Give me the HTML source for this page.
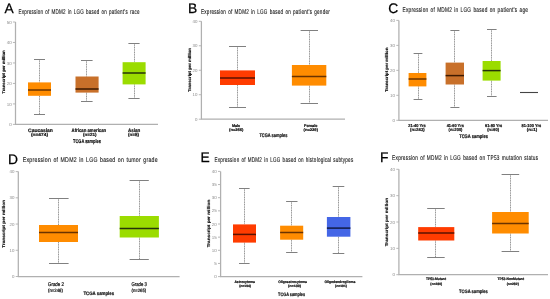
<!DOCTYPE html>
<html><head><meta charset="utf-8"><style>
html,body{margin:0;padding:0;background:#fff;}
svg{display:block;font-family:"Liberation Sans", sans-serif;will-change:transform;text-rendering:geometricPrecision;}
</style></head><body>
<svg width="550" height="299" viewBox="0 0 550 299">
<rect width="550" height="299" fill="#fff"/>
<text x="4.60" y="12.80" font-size="13.8" font-weight="normal" fill="#000" text-anchor="start" stroke="#000" stroke-width="0.25">A</text>
<text x="18.60" y="13.60" font-size="6.8" fill="#1a1a1a" stroke="#1a1a1a" stroke-width="0.12" letter-spacing="0.35" word-spacing="0.8" textLength="121.10" lengthAdjust="spacingAndGlyphs">Expression of MDM2 in LGG based on patient&#8217;s race</text>
<path d="M15.50 22.00V124.40H158.00" fill="none" stroke="#b0b0b0" stroke-width="1.25"/>
<path d="M12.90 124.40H15.50" stroke="#b0b0b0" stroke-width="0.9"/>
<text x="11.60" y="126.00" font-size="4.4" font-weight="normal" fill="#8a8a8a" text-anchor="end">0</text>
<path d="M12.90 103.92H15.50" stroke="#b0b0b0" stroke-width="0.9"/>
<text x="11.60" y="105.52" font-size="4.4" font-weight="normal" fill="#8a8a8a" text-anchor="end">10</text>
<path d="M12.90 83.44H15.50" stroke="#b0b0b0" stroke-width="0.9"/>
<text x="11.60" y="85.04" font-size="4.4" font-weight="normal" fill="#8a8a8a" text-anchor="end">20</text>
<path d="M12.90 62.96H15.50" stroke="#b0b0b0" stroke-width="0.9"/>
<text x="11.60" y="64.56" font-size="4.4" font-weight="normal" fill="#8a8a8a" text-anchor="end">30</text>
<path d="M12.90 42.48H15.50" stroke="#b0b0b0" stroke-width="0.9"/>
<text x="11.60" y="44.08" font-size="4.4" font-weight="normal" fill="#8a8a8a" text-anchor="end">40</text>
<path d="M12.90 22.00H15.50" stroke="#b0b0b0" stroke-width="0.9"/>
<text x="11.60" y="23.60" font-size="4.4" font-weight="normal" fill="#8a8a8a" text-anchor="end">50</text>
<text transform="translate(4.70,72.00) rotate(-90)" x="0" y="0" font-size="4.2" font-weight="bold" fill="#111" stroke="#111" stroke-width="0.15" text-anchor="middle" textLength="43.4" lengthAdjust="spacingAndGlyphs">Transcript per million</text>
<path d="M39.50 59.50V82.40M39.50 95.80V114.50" stroke="#999999" stroke-width="1" stroke-dasharray="1.2 0.5"/>
<path d="M34.00 59.50H45.00M34.00 114.50H45.00" stroke="#808080" stroke-width="1"/>
<rect x="28.00" y="82.40" width="23.00" height="13.40" fill="#ff8c00"/>
<path d="M28.00 90.00H51.00" stroke="#6a3300" stroke-width="1.5"/>
<path d="M86.50 60.50V76.50M86.50 92.60V101.50" stroke="#999999" stroke-width="1" stroke-dasharray="1.2 0.5"/>
<path d="M81.00 60.50H92.60M81.00 101.50H92.60" stroke="#808080" stroke-width="1"/>
<rect x="75.50" y="76.50" width="23.10" height="16.10" fill="#c8702a"/>
<path d="M75.50 89.00H98.60" stroke="#3e1a00" stroke-width="1.5"/>
<path d="M134.50 43.50V62.20M134.50 84.40V98.50" stroke="#999999" stroke-width="1" stroke-dasharray="1.2 0.5"/>
<path d="M128.40 43.50H139.60M128.40 98.50H139.60" stroke="#808080" stroke-width="1"/>
<rect x="122.60" y="62.20" width="23.00" height="22.20" fill="#9bdc00"/>
<path d="M122.60 73.00H145.60" stroke="#26330a" stroke-width="1.5"/>
<text x="28.10" y="131.80" font-size="5.0" font-weight="bold" fill="#111" text-anchor="start" textLength="24.80" lengthAdjust="spacingAndGlyphs" stroke="#111" stroke-width="0.2">Caucasian</text>
<text x="31.00" y="136.40" font-size="4.4" font-weight="bold" fill="#111" text-anchor="start" textLength="17.00" lengthAdjust="spacingAndGlyphs" stroke="#111" stroke-width="0.2">(n=474)</text>
<text x="71.60" y="131.80" font-size="5.0" font-weight="bold" fill="#111" text-anchor="start" textLength="34.60" lengthAdjust="spacingAndGlyphs" stroke="#111" stroke-width="0.2">African american</text>
<text x="83.00" y="136.40" font-size="4.4" font-weight="bold" fill="#111" text-anchor="start" textLength="13.40" lengthAdjust="spacingAndGlyphs" stroke="#111" stroke-width="0.2">(n=21)</text>
<text x="128.10" y="131.80" font-size="5.0" font-weight="bold" fill="#111" text-anchor="start" textLength="12.20" lengthAdjust="spacingAndGlyphs" stroke="#111" stroke-width="0.2">Asian</text>
<text x="128.10" y="136.40" font-size="4.4" font-weight="bold" fill="#111" text-anchor="start" textLength="10.90" lengthAdjust="spacingAndGlyphs" stroke="#111" stroke-width="0.2">(n=8)</text>
<text x="73.10" y="142.80" font-size="5.4" font-weight="bold" fill="#111" text-anchor="start" textLength="27.80" lengthAdjust="spacingAndGlyphs" stroke="#111" stroke-width="0.2">TCGA samples</text>
<text x="188.10" y="12.80" font-size="13.8" font-weight="normal" fill="#000" text-anchor="start" stroke="#000" stroke-width="0.25">B</text>
<text x="201.00" y="13.50" font-size="6.8" fill="#1a1a1a" stroke="#1a1a1a" stroke-width="0.12" letter-spacing="0.35" word-spacing="0.8" textLength="129.00" lengthAdjust="spacingAndGlyphs">Expression of MDM2 in LGG based on patient&#8217;s gender</text>
<path d="M201.40 21.30V119.20H345.00" fill="none" stroke="#b0b0b0" stroke-width="1.25"/>
<path d="M198.80 119.20H201.40" stroke="#b0b0b0" stroke-width="0.9"/>
<text x="197.50" y="120.80" font-size="4.4" font-weight="normal" fill="#8a8a8a" text-anchor="end">0</text>
<path d="M198.80 94.72H201.40" stroke="#b0b0b0" stroke-width="0.9"/>
<text x="197.50" y="96.32" font-size="4.4" font-weight="normal" fill="#8a8a8a" text-anchor="end">10</text>
<path d="M198.80 70.25H201.40" stroke="#b0b0b0" stroke-width="0.9"/>
<text x="197.50" y="71.85" font-size="4.4" font-weight="normal" fill="#8a8a8a" text-anchor="end">20</text>
<path d="M198.80 45.78H201.40" stroke="#b0b0b0" stroke-width="0.9"/>
<text x="197.50" y="47.38" font-size="4.4" font-weight="normal" fill="#8a8a8a" text-anchor="end">30</text>
<path d="M198.80 21.30H201.40" stroke="#b0b0b0" stroke-width="0.9"/>
<text x="197.50" y="22.90" font-size="4.4" font-weight="normal" fill="#8a8a8a" text-anchor="end">40</text>
<text transform="translate(190.80,70.00) rotate(-90)" x="0" y="0" font-size="4.2" font-weight="bold" fill="#111" stroke="#111" stroke-width="0.15" text-anchor="middle" textLength="43.8" lengthAdjust="spacingAndGlyphs">Transcript per million</text>
<path d="M237.50 46.50V70.40M237.50 85.00V107.50" stroke="#999999" stroke-width="1" stroke-dasharray="1.2 0.5"/>
<path d="M229.00 46.50H246.00M229.00 107.50H246.00" stroke="#808080" stroke-width="1"/>
<rect x="220.00" y="70.40" width="35.00" height="14.60" fill="#ff3c00"/>
<path d="M220.00 78.00H255.00" stroke="#5a1200" stroke-width="1.5"/>
<path d="M309.50 30.50V65.00M309.50 85.60V103.50" stroke="#999999" stroke-width="1" stroke-dasharray="1.2 0.5"/>
<path d="M300.60 30.50H318.00M300.60 103.50H318.00" stroke="#808080" stroke-width="1"/>
<rect x="291.90" y="65.00" width="34.40" height="20.60" fill="#ff8c00"/>
<path d="M291.90 76.40H326.30" stroke="#6a3300" stroke-width="1.5"/>
<text x="231.90" y="126.80" font-size="3.9" font-weight="bold" fill="#111" text-anchor="start" textLength="8.20" lengthAdjust="spacingAndGlyphs" stroke="#111" stroke-width="0.2">Male</text>
<text x="229.10" y="131.20" font-size="3.9" font-weight="bold" fill="#111" text-anchor="start" textLength="14.30" lengthAdjust="spacingAndGlyphs" stroke="#111" stroke-width="0.2">(n=266)</text>
<text x="304.00" y="126.80" font-size="3.9" font-weight="bold" fill="#111" text-anchor="start" textLength="13.50" lengthAdjust="spacingAndGlyphs" stroke="#111" stroke-width="0.2">Female</text>
<text x="303.60" y="131.20" font-size="3.9" font-weight="bold" fill="#111" text-anchor="start" textLength="14.40" lengthAdjust="spacingAndGlyphs" stroke="#111" stroke-width="0.2">(n=229)</text>
<text x="259.40" y="136.80" font-size="5.2" font-weight="bold" fill="#111" text-anchor="start" textLength="28.00" lengthAdjust="spacingAndGlyphs" stroke="#111" stroke-width="0.2">TCGA samples</text>
<text x="388.30" y="12.50" font-size="13.8" font-weight="normal" fill="#000" text-anchor="start" stroke="#000" stroke-width="0.25">C</text>
<text x="402.50" y="11.60" font-size="6.8" fill="#1a1a1a" stroke="#1a1a1a" stroke-width="0.12" letter-spacing="0.35" word-spacing="0.8" textLength="125.70" lengthAdjust="spacingAndGlyphs">Expression of MDM2 in LGG based on patient&#8217;s age</text>
<path d="M398.90 20.40V120.30H548.00" fill="none" stroke="#b0b0b0" stroke-width="1.25"/>
<path d="M396.30 120.30H398.90" stroke="#b0b0b0" stroke-width="0.9"/>
<text x="395.00" y="121.90" font-size="4.4" font-weight="normal" fill="#8a8a8a" text-anchor="end">0</text>
<path d="M396.30 95.32H398.90" stroke="#b0b0b0" stroke-width="0.9"/>
<text x="395.00" y="96.92" font-size="4.4" font-weight="normal" fill="#8a8a8a" text-anchor="end">10</text>
<path d="M396.30 70.35H398.90" stroke="#b0b0b0" stroke-width="0.9"/>
<text x="395.00" y="71.95" font-size="4.4" font-weight="normal" fill="#8a8a8a" text-anchor="end">20</text>
<path d="M396.30 45.38H398.90" stroke="#b0b0b0" stroke-width="0.9"/>
<text x="395.00" y="46.98" font-size="4.4" font-weight="normal" fill="#8a8a8a" text-anchor="end">30</text>
<path d="M396.30 20.40H398.90" stroke="#b0b0b0" stroke-width="0.9"/>
<text x="395.00" y="22.00" font-size="4.4" font-weight="normal" fill="#8a8a8a" text-anchor="end">40</text>
<text transform="translate(387.50,69.80) rotate(-90)" x="0" y="0" font-size="4.2" font-weight="bold" fill="#111" stroke="#111" stroke-width="0.15" text-anchor="middle" textLength="44.2" lengthAdjust="spacingAndGlyphs">Transcript per million</text>
<path d="M418.50 53.50V73.00M418.50 86.40V99.50" stroke="#999999" stroke-width="1" stroke-dasharray="1.2 0.5"/>
<path d="M413.60 53.50H422.40M413.60 99.50H422.40" stroke="#808080" stroke-width="1"/>
<rect x="408.60" y="73.00" width="17.80" height="13.40" fill="#ff8c00"/>
<path d="M408.60 79.00H426.40" stroke="#6a3300" stroke-width="1.5"/>
<path d="M454.50 30.50V62.60M454.50 84.50V107.50" stroke="#999999" stroke-width="1" stroke-dasharray="1.2 0.5"/>
<path d="M450.40 30.50H459.40M450.40 107.50H459.40" stroke="#808080" stroke-width="1"/>
<rect x="445.60" y="62.60" width="18.40" height="21.90" fill="#c8702a"/>
<path d="M445.60 75.60H464.00" stroke="#3e1a00" stroke-width="1.5"/>
<path d="M491.50 29.50V61.00M491.50 80.60V96.50" stroke="#999999" stroke-width="1" stroke-dasharray="1.2 0.5"/>
<path d="M487.00 29.50H496.60M487.00 96.50H496.60" stroke="#808080" stroke-width="1"/>
<rect x="482.60" y="61.00" width="18.00" height="19.60" fill="#9bdc00"/>
<path d="M482.60 70.60H500.60" stroke="#26330a" stroke-width="1.5"/>
<path d="M520 92.5H538" stroke="#444" stroke-width="1.1"/>
<text x="408.30" y="127.00" font-size="4.3" font-weight="bold" fill="#111" text-anchor="start" textLength="17.50" lengthAdjust="spacingAndGlyphs" stroke="#111" stroke-width="0.2">21-40 Yrs</text>
<text x="410.00" y="131.40" font-size="4.3" font-weight="bold" fill="#111" text-anchor="start" textLength="14.60" lengthAdjust="spacingAndGlyphs" stroke="#111" stroke-width="0.2">(n=243)</text>
<text x="446.70" y="127.00" font-size="4.3" font-weight="bold" fill="#111" text-anchor="start" textLength="17.20" lengthAdjust="spacingAndGlyphs" stroke="#111" stroke-width="0.2">41-60 Yrs</text>
<text x="448.60" y="131.40" font-size="4.3" font-weight="bold" fill="#111" text-anchor="start" textLength="13.80" lengthAdjust="spacingAndGlyphs" stroke="#111" stroke-width="0.2">(n=200)</text>
<text x="485.00" y="127.00" font-size="4.3" font-weight="bold" fill="#111" text-anchor="start" textLength="17.30" lengthAdjust="spacingAndGlyphs" stroke="#111" stroke-width="0.2">61-80 Yrs</text>
<text x="487.20" y="131.40" font-size="4.3" font-weight="bold" fill="#111" text-anchor="start" textLength="11.80" lengthAdjust="spacingAndGlyphs" stroke="#111" stroke-width="0.2">(n=60)</text>
<text x="521.60" y="127.00" font-size="4.3" font-weight="bold" fill="#111" text-anchor="start" textLength="19.70" lengthAdjust="spacingAndGlyphs" stroke="#111" stroke-width="0.2">81-100 Yrs</text>
<text x="526.70" y="131.40" font-size="4.3" font-weight="bold" fill="#111" text-anchor="start" textLength="10.50" lengthAdjust="spacingAndGlyphs" stroke="#111" stroke-width="0.2">(n=1)</text>
<text x="459.20" y="138.10" font-size="5.2" font-weight="bold" fill="#111" text-anchor="start" textLength="28.80" lengthAdjust="spacingAndGlyphs" stroke="#111" stroke-width="0.2">TCGA samples</text>
<text x="8.10" y="163.70" font-size="13.8" font-weight="normal" fill="#000" text-anchor="start" stroke="#000" stroke-width="0.25">D</text>
<text x="22.80" y="162.40" font-size="6.8" fill="#1a1a1a" stroke="#1a1a1a" stroke-width="0.12" letter-spacing="0.35" word-spacing="0.8" textLength="135.10" lengthAdjust="spacingAndGlyphs">Expression of MDM2 in LGG based on tumor grade</text>
<path d="M18.30 171.60V276.50H179.60" fill="none" stroke="#b0b0b0" stroke-width="1.25"/>
<path d="M15.70 276.50H18.30" stroke="#b0b0b0" stroke-width="0.9"/>
<text x="14.40" y="278.10" font-size="4.4" font-weight="normal" fill="#8a8a8a" text-anchor="end">0</text>
<path d="M15.70 250.28H18.30" stroke="#b0b0b0" stroke-width="0.9"/>
<text x="14.40" y="251.88" font-size="4.4" font-weight="normal" fill="#8a8a8a" text-anchor="end">10</text>
<path d="M15.70 224.05H18.30" stroke="#b0b0b0" stroke-width="0.9"/>
<text x="14.40" y="225.65" font-size="4.4" font-weight="normal" fill="#8a8a8a" text-anchor="end">20</text>
<path d="M15.70 197.82H18.30" stroke="#b0b0b0" stroke-width="0.9"/>
<text x="14.40" y="199.42" font-size="4.4" font-weight="normal" fill="#8a8a8a" text-anchor="end">30</text>
<path d="M15.70 171.60H18.30" stroke="#b0b0b0" stroke-width="0.9"/>
<text x="14.40" y="173.20" font-size="4.4" font-weight="normal" fill="#8a8a8a" text-anchor="end">40</text>
<text transform="translate(5.30,223.80) rotate(-90)" x="0" y="0" font-size="4.2" font-weight="bold" fill="#111" stroke="#111" stroke-width="0.15" text-anchor="middle" textLength="47.7" lengthAdjust="spacingAndGlyphs">Transcript per million</text>
<path d="M58.50 198.50V225.00M58.50 242.00V263.50" stroke="#999999" stroke-width="1" stroke-dasharray="1.2 0.5"/>
<path d="M49.00 198.50H68.60M49.00 263.50H68.60" stroke="#808080" stroke-width="1"/>
<rect x="39.00" y="225.00" width="39.00" height="17.00" fill="#ff8c00"/>
<path d="M39.00 232.60H78.00" stroke="#6a3300" stroke-width="1.5"/>
<path d="M139.50 180.50V216.00M139.50 237.50V259.50" stroke="#999999" stroke-width="1" stroke-dasharray="1.2 0.5"/>
<path d="M129.60 180.50H148.80M129.60 259.50H148.80" stroke="#808080" stroke-width="1"/>
<rect x="119.70" y="216.00" width="39.20" height="21.50" fill="#9bdc00"/>
<path d="M119.70 228.50H158.90" stroke="#26330a" stroke-width="1.5"/>
<text x="48.00" y="285.60" font-size="5.5" font-weight="normal" fill="#111" text-anchor="start" textLength="15.90" lengthAdjust="spacingAndGlyphs" stroke="#111" stroke-width="0.22">Grade 2</text>
<text x="48.00" y="291.70" font-size="4.7" font-weight="normal" fill="#111" text-anchor="start" textLength="14.90" lengthAdjust="spacingAndGlyphs" stroke="#111" stroke-width="0.22">(n=248)</text>
<text x="131.50" y="285.60" font-size="5.5" font-weight="normal" fill="#111" text-anchor="start" textLength="15.30" lengthAdjust="spacingAndGlyphs" stroke="#111" stroke-width="0.22">Grade 3</text>
<text x="131.50" y="291.70" font-size="4.7" font-weight="normal" fill="#111" text-anchor="start" textLength="14.70" lengthAdjust="spacingAndGlyphs" stroke="#111" stroke-width="0.22">(n=265)</text>
<text x="83.40" y="295.30" font-size="5.0" font-weight="bold" fill="#111" text-anchor="start" textLength="30.70" lengthAdjust="spacingAndGlyphs" stroke="#111" stroke-width="0.2">TCGA samples</text>
<text x="200.50" y="161.90" font-size="13.8" font-weight="normal" fill="#000" text-anchor="start" stroke="#000" stroke-width="0.25">E</text>
<text x="214.50" y="162.40" font-size="6.8" fill="#1a1a1a" stroke="#1a1a1a" stroke-width="0.12" letter-spacing="0.35" word-spacing="0.8" textLength="138.90" lengthAdjust="spacingAndGlyphs">Expression of MDM2 in LGG based on histological subtypes</text>
<path d="M220.60 171.40V276.60H362.40" fill="none" stroke="#b0b0b0" stroke-width="1.25"/>
<path d="M218.00 276.60H220.60" stroke="#b0b0b0" stroke-width="0.9"/>
<text x="216.70" y="278.20" font-size="4.4" font-weight="normal" fill="#8a8a8a" text-anchor="end">0</text>
<path d="M218.00 263.45H220.60" stroke="#b0b0b0" stroke-width="0.9"/>
<text x="216.70" y="265.05" font-size="4.4" font-weight="normal" fill="#8a8a8a" text-anchor="end">5</text>
<path d="M218.00 250.30H220.60" stroke="#b0b0b0" stroke-width="0.9"/>
<text x="216.70" y="251.90" font-size="4.4" font-weight="normal" fill="#8a8a8a" text-anchor="end">10</text>
<path d="M218.00 237.15H220.60" stroke="#b0b0b0" stroke-width="0.9"/>
<text x="216.70" y="238.75" font-size="4.4" font-weight="normal" fill="#8a8a8a" text-anchor="end">15</text>
<path d="M218.00 224.00H220.60" stroke="#b0b0b0" stroke-width="0.9"/>
<text x="216.70" y="225.60" font-size="4.4" font-weight="normal" fill="#8a8a8a" text-anchor="end">20</text>
<path d="M218.00 210.85H220.60" stroke="#b0b0b0" stroke-width="0.9"/>
<text x="216.70" y="212.45" font-size="4.4" font-weight="normal" fill="#8a8a8a" text-anchor="end">25</text>
<path d="M218.00 197.70H220.60" stroke="#b0b0b0" stroke-width="0.9"/>
<text x="216.70" y="199.30" font-size="4.4" font-weight="normal" fill="#8a8a8a" text-anchor="end">30</text>
<path d="M218.00 184.55H220.60" stroke="#b0b0b0" stroke-width="0.9"/>
<text x="216.70" y="186.15" font-size="4.4" font-weight="normal" fill="#8a8a8a" text-anchor="end">35</text>
<path d="M218.00 171.40H220.60" stroke="#b0b0b0" stroke-width="0.9"/>
<text x="216.70" y="173.00" font-size="4.4" font-weight="normal" fill="#8a8a8a" text-anchor="end">40</text>
<text transform="translate(210.00,223.50) rotate(-90)" x="0" y="0" font-size="4.2" font-weight="bold" fill="#111" stroke="#111" stroke-width="0.15" text-anchor="middle" textLength="47.6" lengthAdjust="spacingAndGlyphs">Transcript per million</text>
<path d="M244.50 188.50V224.40M244.50 242.60V263.50" stroke="#999999" stroke-width="1" stroke-dasharray="1.2 0.5"/>
<path d="M239.00 188.50H249.60M239.00 263.50H249.60" stroke="#808080" stroke-width="1"/>
<rect x="233.00" y="224.40" width="23.00" height="18.20" fill="#ff3c00"/>
<path d="M233.00 234.40H256.00" stroke="#5a1200" stroke-width="1.5"/>
<path d="M291.50 201.50V225.70M291.50 239.70V252.50" stroke="#999999" stroke-width="1" stroke-dasharray="1.2 0.5"/>
<path d="M286.10 201.50H297.50M286.10 252.50H297.50" stroke="#808080" stroke-width="1"/>
<rect x="280.10" y="225.70" width="23.10" height="14.00" fill="#ff8c00"/>
<path d="M280.10 232.50H303.20" stroke="#6a3300" stroke-width="1.5"/>
<path d="M338.50 186.50V217.00M338.50 236.70V253.50" stroke="#999999" stroke-width="1" stroke-dasharray="1.2 0.5"/>
<path d="M332.70 186.50H344.30M332.70 253.50H344.30" stroke="#808080" stroke-width="1"/>
<rect x="326.90" y="217.00" width="23.50" height="19.70" fill="#4466e6"/>
<path d="M326.90 228.10H350.40" stroke="#101a45" stroke-width="1.5"/>
<text x="234.40" y="282.70" font-size="3.5" font-weight="bold" fill="#111" text-anchor="start" textLength="20.60" lengthAdjust="spacingAndGlyphs" stroke="#111" stroke-width="0.2">Astrocytoma</text>
<text x="239.20" y="286.90" font-size="3.3" font-weight="bold" fill="#111" text-anchor="start" textLength="11.80" lengthAdjust="spacingAndGlyphs" stroke="#111" stroke-width="0.2">(n=194)</text>
<text x="278.30" y="282.70" font-size="3.5" font-weight="bold" fill="#111" text-anchor="start" textLength="28.50" lengthAdjust="spacingAndGlyphs" stroke="#111" stroke-width="0.2">Oligoastrocytoma</text>
<text x="288.10" y="286.90" font-size="3.3" font-weight="bold" fill="#111" text-anchor="start" textLength="13.00" lengthAdjust="spacingAndGlyphs" stroke="#111" stroke-width="0.2">(n=130)</text>
<text x="324.40" y="282.70" font-size="3.5" font-weight="bold" fill="#111" text-anchor="start" textLength="31.10" lengthAdjust="spacingAndGlyphs" stroke="#111" stroke-width="0.2">Oligodendroglioma</text>
<text x="335.00" y="286.90" font-size="3.3" font-weight="bold" fill="#111" text-anchor="start" textLength="12.00" lengthAdjust="spacingAndGlyphs" stroke="#111" stroke-width="0.2">(n=191)</text>
<text x="278.10" y="295.80" font-size="5.0" font-weight="bold" fill="#111" text-anchor="start" textLength="27.00" lengthAdjust="spacingAndGlyphs" stroke="#111" stroke-width="0.2">TCGA samples</text>
<text x="380.00" y="161.70" font-size="13.8" font-weight="normal" fill="#000" text-anchor="start" stroke="#000" stroke-width="0.25">F</text>
<text x="392.10" y="160.20" font-size="6.8" fill="#1a1a1a" stroke="#1a1a1a" stroke-width="0.12" letter-spacing="0.35" word-spacing="0.8" textLength="146.30" lengthAdjust="spacingAndGlyphs">Expression of MDM2 in LGG based on TP53 mutation status</text>
<path d="M398.90 169.30V274.70H548.00" fill="none" stroke="#b0b0b0" stroke-width="1.25"/>
<path d="M396.30 274.70H398.90" stroke="#b0b0b0" stroke-width="0.9"/>
<text x="395.00" y="276.30" font-size="4.4" font-weight="normal" fill="#8a8a8a" text-anchor="end">0</text>
<path d="M396.30 248.35H398.90" stroke="#b0b0b0" stroke-width="0.9"/>
<text x="395.00" y="249.95" font-size="4.4" font-weight="normal" fill="#8a8a8a" text-anchor="end">10</text>
<path d="M396.30 222.00H398.90" stroke="#b0b0b0" stroke-width="0.9"/>
<text x="395.00" y="223.60" font-size="4.4" font-weight="normal" fill="#8a8a8a" text-anchor="end">20</text>
<path d="M396.30 195.65H398.90" stroke="#b0b0b0" stroke-width="0.9"/>
<text x="395.00" y="197.25" font-size="4.4" font-weight="normal" fill="#8a8a8a" text-anchor="end">30</text>
<path d="M396.30 169.30H398.90" stroke="#b0b0b0" stroke-width="0.9"/>
<text x="395.00" y="170.90" font-size="4.4" font-weight="normal" fill="#8a8a8a" text-anchor="end">40</text>
<text transform="translate(388.00,222.10) rotate(-90)" x="0" y="0" font-size="4.2" font-weight="bold" fill="#111" stroke="#111" stroke-width="0.15" text-anchor="middle" textLength="48.4" lengthAdjust="spacingAndGlyphs">Transcript per million</text>
<path d="M435.50 208.50V227.10M435.50 240.50V257.50" stroke="#999999" stroke-width="1" stroke-dasharray="1.2 0.5"/>
<path d="M427.20 208.50H444.70M427.20 257.50H444.70" stroke="#808080" stroke-width="1"/>
<rect x="418.20" y="227.10" width="36.10" height="13.40" fill="#ff3c00"/>
<path d="M418.20 233.10H454.30" stroke="#5a1200" stroke-width="1.5"/>
<path d="M510.50 174.50V212.00M510.50 233.50V251.50" stroke="#999999" stroke-width="1" stroke-dasharray="1.2 0.5"/>
<path d="M501.60 174.50H519.20M501.60 251.50H519.20" stroke="#808080" stroke-width="1"/>
<rect x="492.10" y="212.00" width="36.60" height="21.50" fill="#ff8c00"/>
<path d="M492.10 223.50H528.70" stroke="#6a3300" stroke-width="1.5"/>
<text x="426.00" y="280.30" font-size="3.5" font-weight="bold" fill="#111" text-anchor="start" textLength="20.00" lengthAdjust="spacingAndGlyphs" stroke="#111" stroke-width="0.2">TP53-Mutant</text>
<text x="430.30" y="284.50" font-size="3.3" font-weight="bold" fill="#111" text-anchor="start" textLength="11.90" lengthAdjust="spacingAndGlyphs" stroke="#111" stroke-width="0.2">(n=230)</text>
<text x="497.50" y="280.30" font-size="3.5" font-weight="bold" fill="#111" text-anchor="start" textLength="26.50" lengthAdjust="spacingAndGlyphs" stroke="#111" stroke-width="0.2">TP53-NonMutant</text>
<text x="506.70" y="284.50" font-size="3.3" font-weight="bold" fill="#111" text-anchor="start" textLength="12.10" lengthAdjust="spacingAndGlyphs" stroke="#111" stroke-width="0.2">(n=282)</text>
<text x="459.10" y="293.30" font-size="5.0" font-weight="bold" fill="#111" text-anchor="start" textLength="28.80" lengthAdjust="spacingAndGlyphs" stroke="#111" stroke-width="0.2">TCGA samples</text>
</svg></body></html>
